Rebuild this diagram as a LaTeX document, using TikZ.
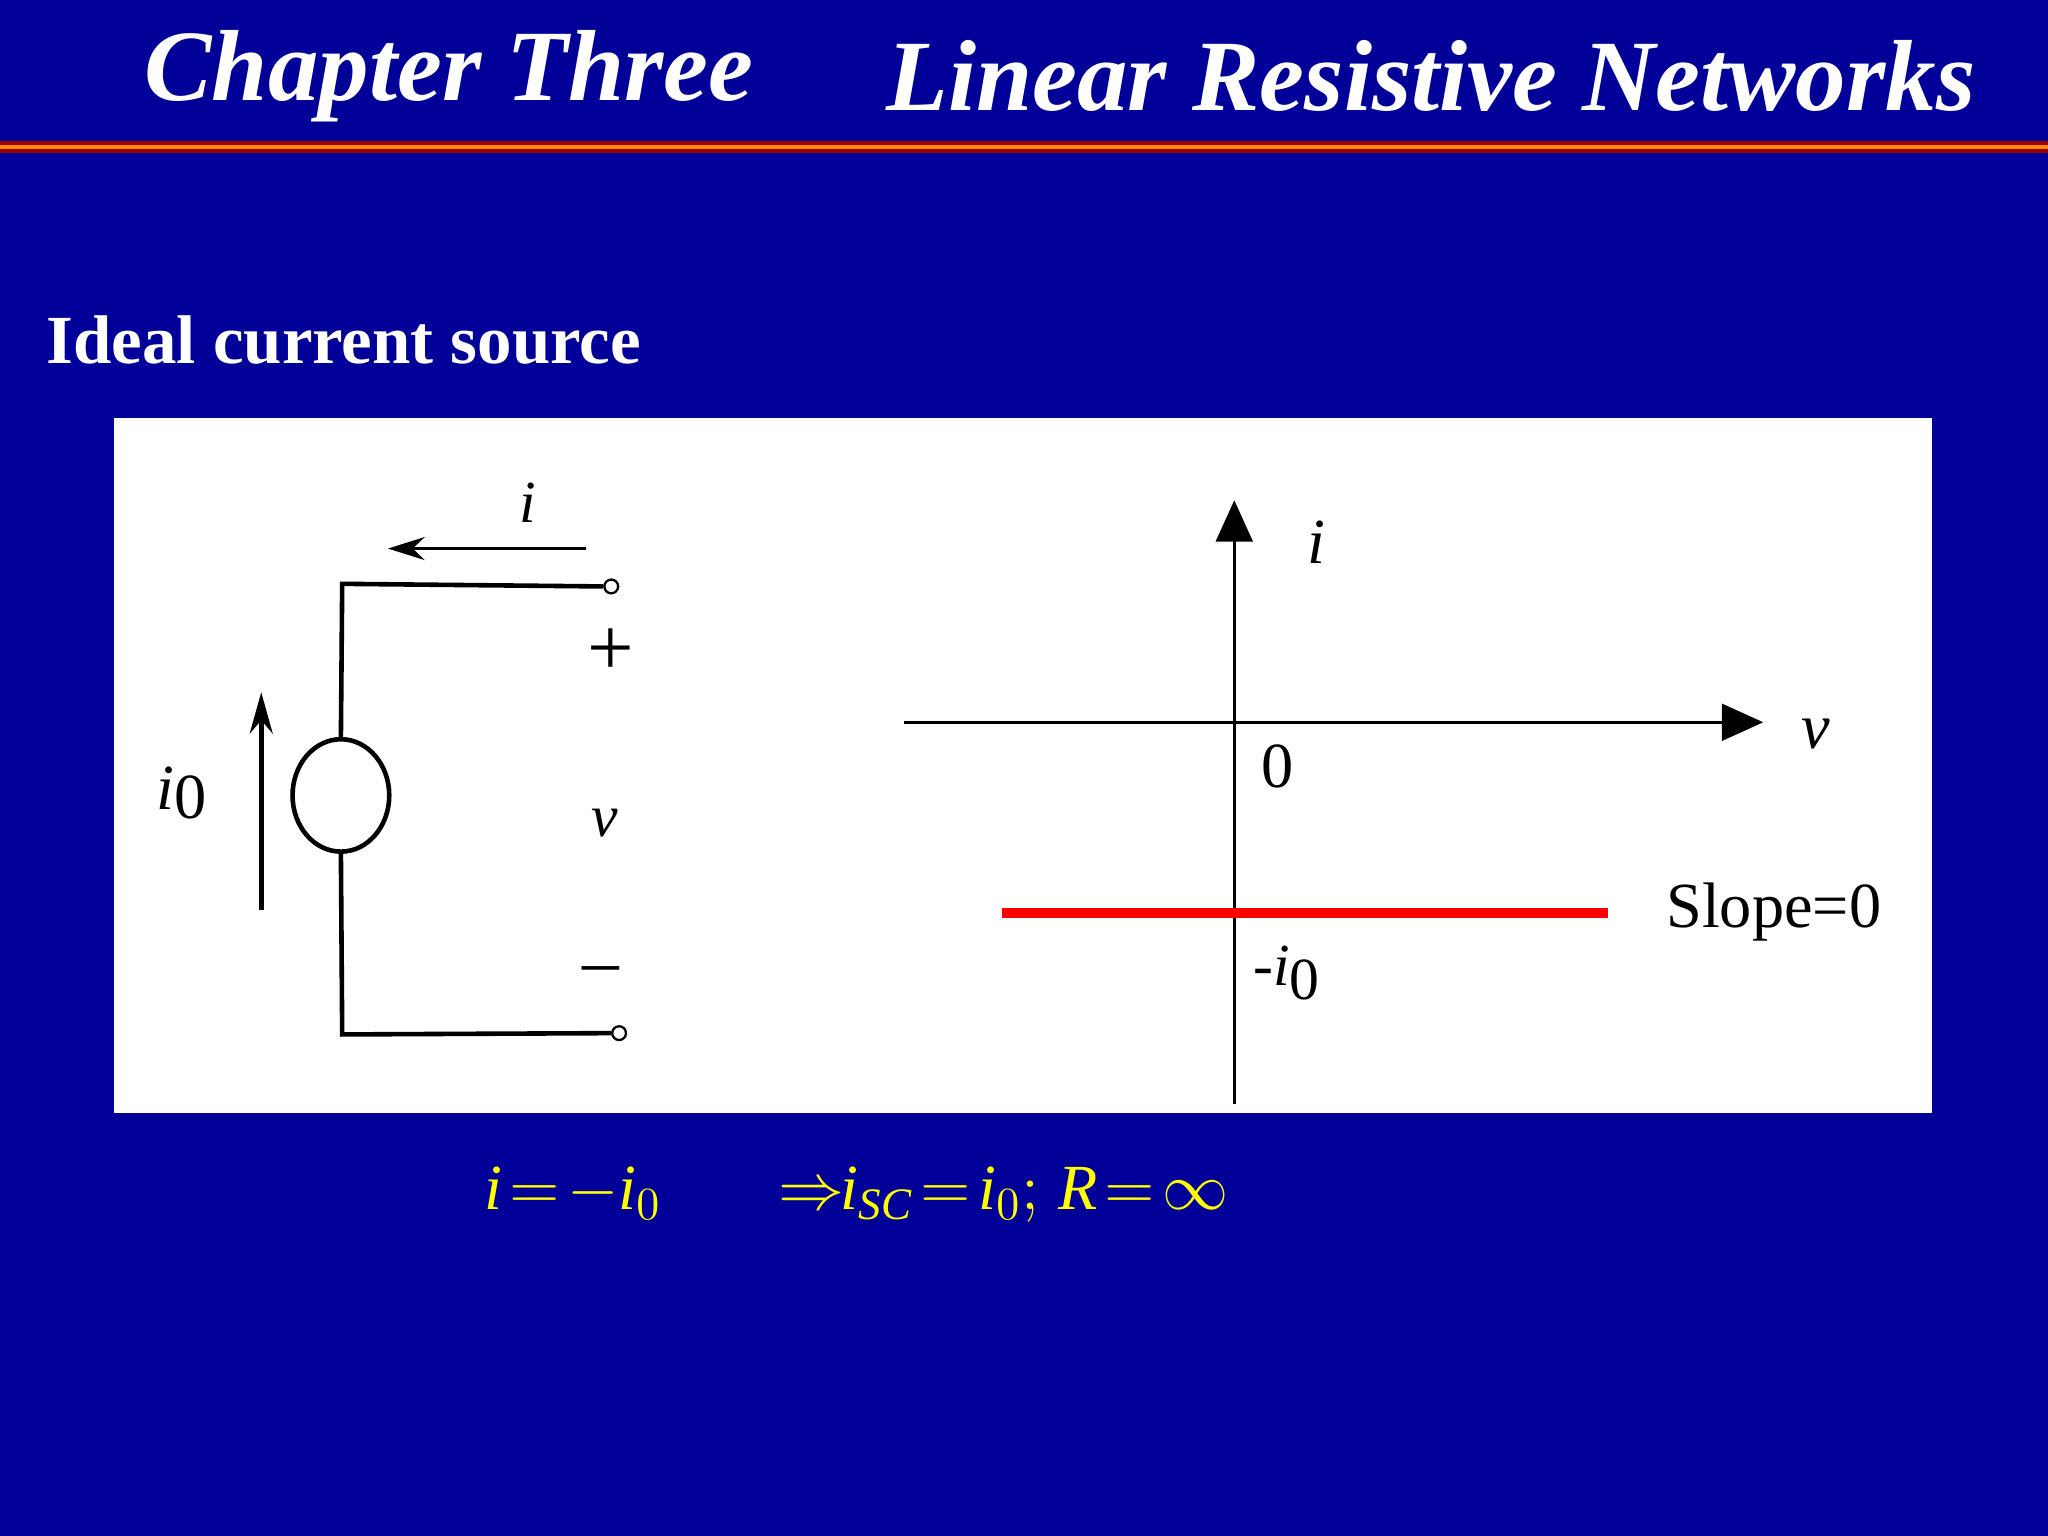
\documentclass[tikz,border=0pt]{standalone}
\usepackage{fontspec}
\setmainfont{Liberation Serif}
\usetikzlibrary{arrows.meta,shapes.geometric}
\definecolor{bg}{RGB}{0,0,153}
\definecolor{ylw}{RGB}{255,255,0}
\begin{document}
\begin{tikzpicture}[x=0.01cm,y=-0.01cm,
  wire/.style={line width=1pt,black},
  axis/.style={line width=0.6pt,black,-{Triangle[length=9pt,width=8pt]}},
  lbl/.style={inner sep=0pt}]
\fill[bg] (0,0) rectangle (1568,1176);
\useasboundingbox (0,0) rectangle (1568,1176);
\fill[orange!90!yellow] (0,111) rectangle (1568,114);
\fill[red!60!black] (0,108) rectangle (1568,111);
\fill[red!60!black] (0,114) rectangle (1568,117);
\node[text=white,font=\fontsize{22}{26}\selectfont\bfseries\itshape,anchor=west,inner sep=0pt] (t1) at (110,58) {Chapter Three};
\node[text=white,font=\fontsize{22}{26}\selectfont\bfseries\itshape,anchor=west,inner sep=0pt] (t2) at (678,58) {Linear Resistive Networks};
\node[text=white,font=\fontsize{15}{18}\selectfont\bfseries,anchor=west,inner sep=0pt] (sub) at (35,260) {Ideal current source};
\fill[white] (87,320) rectangle (1479,852);
% circuit
\coordinate (tl) at (262,447); \coordinate (bl) at (262,792);
\node[draw,line width=1pt,ellipse,minimum width=0.74cm,minimum height=0.86cm,inner sep=0pt] (src) at (261,609) {};
\node[draw,line width=0.5pt,circle,fill=white,inner sep=0pt,minimum size=3pt] (ta) at (468,449) {};
\node[draw,line width=0.5pt,circle,fill=white,inner sep=0pt,minimum size=3pt] (tb) at (474,791) {};
\draw[wire] (src.north) -- (tl) -- (ta.west);
\draw[wire] (src.south) -- (bl) -- (tb.west);
\coordinate (ia) at (449,420); \coordinate (ib) at (297,420);
\draw[line width=0.6pt,-{Stealth[length=8pt,width=5pt]}] (ia) -- (ib);
\coordinate (ja) at (200,697); \coordinate (jb) at (200,530);
\draw[line width=1pt,-{Stealth[length=9pt,width=5pt]}] (ja) -- (jb);
\node[lbl,font=\fontsize{13}{15}\selectfont\itshape] (il) at (404,385) {i};
\node[lbl,font=\fontsize{18}{20}\selectfont] (pl) at (468,499) {+};
\node[lbl,font=\fontsize{13}{15}\selectfont\itshape] (vl) at (463,630) {v};
\node[lbl,font=\fontsize{16}{18}\selectfont] (ml) at (460,747) {--};
\node[lbl,font=\fontsize{14}{16}\selectfont] (i0l) at (139,607) {\textit{i}\raisebox{-2pt}{0}};
% graph
\coordinate (hx0) at (692,553); \coordinate (hx1) at (1350,553);
\coordinate (vy0) at (945,845); \coordinate (vy1) at (945,383);
\draw[axis] (hx0) -- (hx1);
\draw[axis] (vy0) -- (vy1);
\coordinate (r0) at (767,699); \coordinate (r1) at (1231,699);
\draw[red,line width=2.2pt] (r0) -- (r1);
\node[lbl,font=\fontsize{14}{16}\selectfont\itshape] (gi) at (1008,415) {i};
\node[lbl,font=\fontsize{14}{16}\selectfont\itshape] (gv) at (1390,562) {v};
\node[lbl,font=\fontsize{14}{16}\selectfont] (g0) at (978,587) {0};
\node[lbl,font=\fontsize{13}{15}\selectfont] (gm) at (985,745) {-\textit{i}\raisebox{-3pt}{0}};
\node[lbl,font=\fontsize{14}{16}\selectfont] (gs) at (1358,698) {Slope=0};
% formula
\node[text=ylw,anchor=west,font=\fontsize{14}{17}\selectfont,inner sep=0pt] (f) at (370,915)
 {\thickmuskip=2mu $\mathit{i}=-\mathit{i}_0\hspace{1.7em}\Rightarrow\! \mathit{i}_{\mathit{SC}}=\mathit{i}_0;\;\mathit{R}=\infty$};
\end{tikzpicture}
\end{document}
